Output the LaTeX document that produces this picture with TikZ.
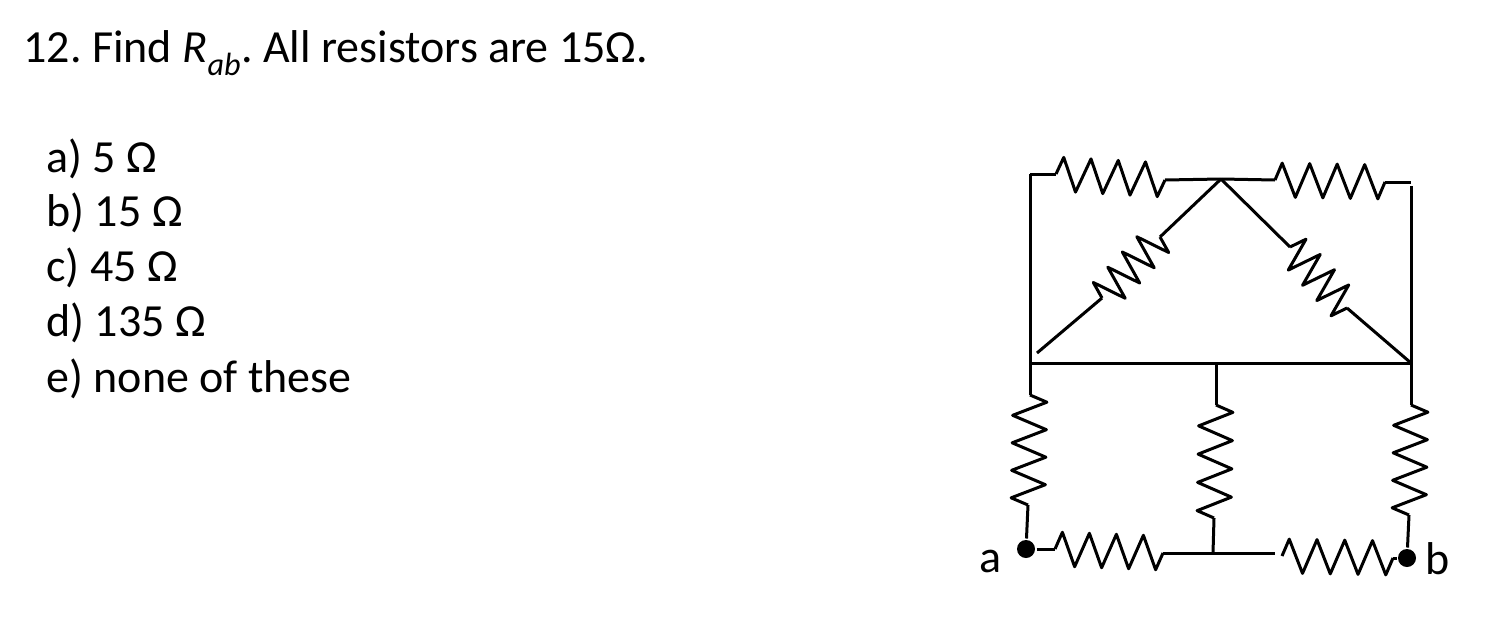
\documentclass[tikz,border=0pt]{standalone}
\usepackage{fontspec}
\setmainfont{Carlito}
\usetikzlibrary{calc}
\frenchspacing
\newcommand\resis[2]{%
  \draw (#1) \foreach \k [evaluate=\k as \t using {(2*\k+1)/16}, evaluate=\k as \s using {ifthenelse(mod(\k,2)==0,17,-17)}] in {0,...,7}{ -- ($(#1)!\t!(#2)!\s pt!90:(#2)$)} -- (#2);}
\begin{document}
\begin{tikzpicture}[x=1pt,y=-1pt,line width=3pt,line join=round,
  txt/.style={anchor=base west,inner sep=0,font=\fontsize{46}{50}\selectfont},
  dot/.style={circle,fill=black,inner sep=0,minimum size=18}]
\useasboundingbox (0,0) rectangle (1512,640);
\node[txt] (t) at (22,62) {12. Find \textit{R}$_{\mathit{ab}}$. All resistors are 15Ω.};
\node[txt] (o1) at (45,172) {a) 5 Ω};
\node[txt] (o2) at (45,226) {b) 15 Ω};
\node[txt] (o3) at (45,281) {c) 45 Ω};
\node[txt] (o4) at (45,336) {d) 135 Ω};
\node[txt] (o5) at (45,392) {e) none of these};
\coordinate (tl) at (1030,174);
\coordinate (tm) at (1221,179);
\coordinate (tr) at (1411,182);
\coordinate (ml) at (1030,363);
\coordinate (mm) at (1216,363);
\coordinate (mr) at (1411,363);
\coordinate (bm) at (1213,553);
\node[dot] (a) at (1026,549) {};
\node[dot] (b) at (1407,558) {};
\node[txt,anchor=base east] (la) at (1003,572) {a};
\node[txt] (lb) at (1424,574) {b};
% resistor end points
\coordinate (r1a) at (1056,174); \coordinate (r1b) at (1165,180);
\coordinate (r2a) at (1275,180); \coordinate (r2b) at (1385,182);
\coordinate (r3a) at (1102,298); \coordinate (r3b) at (1160,237);
\coordinate (r4a) at (1290,247); \coordinate (r4b) at (1347,308);
\coordinate (r5a) at (1030,395); \coordinate (r5b) at (1028,505);
\coordinate (r6a) at (1216,405); \coordinate (r6b) at (1214,518);
\coordinate (r7a) at (1411,405); \coordinate (r7b) at (1409,515);
\coordinate (r8a) at (1055,549); \coordinate (r8b) at (1163,553);
\coordinate (r9a) at (1282,556); \coordinate (r9b) at (1393,558);
% top
\draw (tl) -- (r1a); \resis{r1a}{r1b};
\draw (r1b) -- (tm) -- (r2a); \resis{r2a}{r2b};
\draw (r2b) -- (tr);
\draw (tl) -- (ml);
\draw (1411,186) -- (mr);
\draw (ml) -- (mr);
% diagonals
\draw (1037,353) -- (r3a); \resis{r3b}{r3a}; \draw (r3b) -- (tm);
\draw (tm) -- (r4a); \resis{r4a}{r4b}; \draw (r4b) -- (mr);
% verticals
\draw (ml) -- (r5a); \resis{r5b}{r5a}; \draw (r5b) -- (a);
\draw (mm) -- (r6a); \resis{r6b}{r6a}; \draw (r6b) -- (bm);
\draw (mr) -- (r7a); \resis{r7b}{r7a}; \draw (r7b) -- (b);
% bottom
\draw (a) -- (r8a); \resis{r8a}{r8b};
\draw (r8b) -- (bm) -- (1275,553);
\resis{r9a}{r9b}; \draw (r9b) -- (b);
\end{tikzpicture}
\end{document}
